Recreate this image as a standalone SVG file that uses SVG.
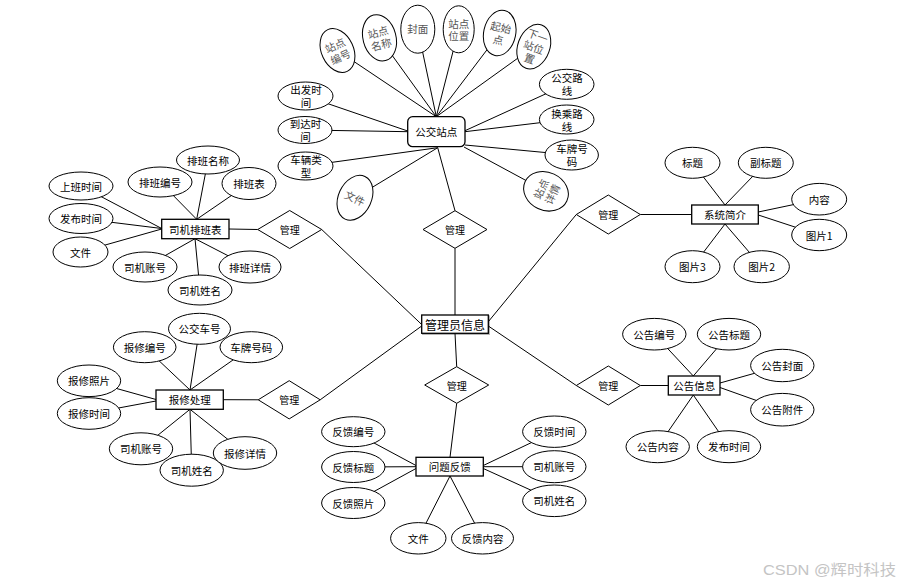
<svg xmlns="http://www.w3.org/2000/svg" width="902" height="584" viewBox="0 0 902 584">
<style>
text{font-family:"Noto Sans CJK SC","Liberation Sans",sans-serif;font-size:10.5px;fill:#000;text-anchor:middle;dominant-baseline:central}
.ell{fill:#fff;stroke:#000;stroke-width:1}
.ent{fill:#fff;stroke:#000;stroke-width:1.3}
.rel{fill:#fff;stroke:#000;stroke-width:1}
.rot text{fill:#555}
.rl{font-size:10px}
.big{font-size:12px}
#connectors line{stroke:#000;stroke-width:1}
.wm{font-family:"Liberation Sans","Noto Sans CJK SC",sans-serif;font-size:15px;fill:#c4c4c4;text-anchor:start}
</style>
<rect width="902" height="584" fill="#fff"/>
<g id="connectors">
<!-- 公交站点 -->
<line x1="337.5" y1="50.5" x2="436.3" y2="116.7"/>
<line x1="379.5" y1="37.8" x2="436.3" y2="116.7"/>
<line x1="417.8" y1="29.2" x2="436.3" y2="116.7"/>
<line x1="458.7" y1="29.3" x2="436.3" y2="116.7"/>
<line x1="499.7" y1="33" x2="436.3" y2="116.7"/>
<line x1="533.8" y1="46.7" x2="436.3" y2="116.7"/>
<line x1="305.5" y1="96" x2="407.7" y2="131"/>
<line x1="305" y1="130" x2="407.7" y2="131.7"/>
<line x1="305.5" y1="166" x2="437.7" y2="147.7"/>
<line x1="355" y1="197.8" x2="437.7" y2="147.7"/>
<line x1="566.7" y1="84.3" x2="465" y2="130.7"/>
<line x1="566.7" y1="119.5" x2="465" y2="131.7"/>
<line x1="571.7" y1="155" x2="465" y2="145"/>
<line x1="546" y1="191.3" x2="464" y2="147"/>
<line x1="437.7" y1="147.7" x2="455" y2="210.7"/>
<line x1="455" y1="248.3" x2="455" y2="315"/>
<!-- 司机排班表 -->
<line x1="81" y1="186" x2="161.7" y2="228.5"/>
<line x1="81" y1="218.5" x2="161.7" y2="228.5"/>
<line x1="80.5" y1="252" x2="161.7" y2="229"/>
<line x1="160" y1="182" x2="196.7" y2="219.3"/>
<line x1="208" y1="160" x2="196.7" y2="219.3"/>
<line x1="249" y1="183.5" x2="196.7" y2="219.3"/>
<line x1="145" y1="267" x2="195" y2="238.7"/>
<line x1="200" y1="290" x2="195" y2="238.7"/>
<line x1="250" y1="267" x2="195" y2="238.7"/>
<line x1="229" y1="229" x2="257.7" y2="229.5"/>
<line x1="321.7" y1="229.5" x2="421.7" y2="324.5"/>
<!-- 报修处理 -->
<line x1="144.7" y1="347.2" x2="190" y2="390"/>
<line x1="199.5" y1="328.8" x2="190" y2="390"/>
<line x1="251.3" y1="347.2" x2="190" y2="390"/>
<line x1="89" y1="380.8" x2="156" y2="399.5"/>
<line x1="89" y1="413.5" x2="156" y2="401"/>
<line x1="141" y1="448.8" x2="190" y2="409.3"/>
<line x1="191.7" y1="470.2" x2="190" y2="409.3"/>
<line x1="245" y1="453" x2="190" y2="409.3"/>
<line x1="223.3" y1="399.7" x2="258.2" y2="399.8"/>
<line x1="320.2" y1="399.8" x2="421.7" y2="326"/>
<!-- 问题反馈 -->
<line x1="455" y1="333.3" x2="456.7" y2="366.7"/>
<line x1="456.7" y1="403.3" x2="450" y2="457.3"/>
<line x1="353" y1="431.7" x2="416" y2="465.5"/>
<line x1="353" y1="467" x2="416" y2="466.7"/>
<line x1="353" y1="503" x2="416" y2="468.5"/>
<line x1="418.3" y1="538.3" x2="450" y2="476"/>
<line x1="482.5" y1="538.3" x2="450" y2="476"/>
<line x1="554.3" y1="431.7" x2="483.3" y2="465.5"/>
<line x1="554.3" y1="466.7" x2="483.3" y2="466.7"/>
<line x1="554.3" y1="500.8" x2="483.3" y2="468.5"/>
<!-- 系统简介 -->
<line x1="488.3" y1="321.7" x2="576.3" y2="214.5"/>
<line x1="640.3" y1="214.5" x2="691.7" y2="214.5"/>
<line x1="692.5" y1="162.8" x2="725" y2="205"/>
<line x1="765.8" y1="162.8" x2="725" y2="205"/>
<line x1="819.2" y1="199.2" x2="758.3" y2="212"/>
<line x1="819.2" y1="235" x2="758.3" y2="215"/>
<line x1="692.5" y1="266.7" x2="725" y2="224"/>
<line x1="761.7" y1="266.7" x2="725" y2="224"/>
<!-- 公告信息 -->
<line x1="488.3" y1="326" x2="576.3" y2="385.5"/>
<line x1="640.3" y1="385.5" x2="668.3" y2="385.5"/>
<line x1="654.3" y1="334.2" x2="693.3" y2="376"/>
<line x1="729" y1="334.2" x2="693.3" y2="376"/>
<line x1="782.3" y1="365.5" x2="720" y2="383"/>
<line x1="782.3" y1="409.7" x2="720" y2="387.5"/>
<line x1="657.7" y1="446.7" x2="693.3" y2="395"/>
<line x1="729" y1="446.7" x2="693.3" y2="395"/>
</g>

<!-- 公交站点 entity and attributes -->
<g id="n-gongjiaozhandian"><rect class="ent" x="407.7" y="116.7" width="57.3" height="30" rx="5"/><text x="436.3" y="131.7">公交站点</text></g>
<g id="a-zhandianbianhao" class="rot" transform="translate(337.5,50.5) rotate(-25)"><ellipse class="ell" cx="0" cy="0" rx="16" ry="23"/><text x="0" y="-6">站点</text><text x="0" y="6.5">编号</text></g>
<g id="a-zhandianmingcheng" class="rot" transform="translate(379.5,37.8) rotate(-15)"><ellipse class="ell" cx="0" cy="0" rx="16.5" ry="23.5"/><text x="0" y="-6">站点</text><text x="0" y="6.5">名称</text></g>
<g id="a-fengmian" class="rot" transform="translate(417.8,29.2)"><ellipse class="ell" cx="0" cy="0" rx="17" ry="24"/><text x="0" y="-1">封面</text></g>
<g id="a-zhandianweizhi" class="rot" transform="translate(458.7,29.3)"><ellipse class="ell" cx="0" cy="0" rx="15.5" ry="23.5"/><text x="0" y="-6">站点</text><text x="0" y="6">位置</text></g>
<g id="a-qishidian" class="rot" transform="translate(499.7,33) rotate(12)"><ellipse class="ell" cx="0" cy="0" rx="16" ry="23"/><text x="0" y="-6">起始</text><text x="0" y="6.5">点</text></g>
<g id="a-xiayizhanweizhi" class="rot" transform="translate(533.8,46.7) rotate(20)"><ellipse class="ell" cx="0" cy="0" rx="16" ry="23"/><text x="0" y="-12">下一</text><text x="0" y="0">站位</text><text x="0" y="12">置</text></g>
<g id="a-chufashijian"><ellipse class="ell" cx="305.5" cy="96" rx="27.5" ry="14"/><text x="306" y="89.5">出发时</text><text x="306" y="102.5">间</text></g>
<g id="a-daodashijian"><ellipse class="ell" cx="305" cy="130" rx="27" ry="13.5"/><text x="305.5" y="123.5">到达时</text><text x="305.5" y="136.5">间</text></g>
<g id="a-cheliangleixing"><ellipse class="ell" cx="305.5" cy="166" rx="27.5" ry="14"/><text x="306" y="159.5">车辆类</text><text x="306" y="172.5">型</text></g>
<g id="a-wenjian1" class="rot" transform="translate(355,197.8) rotate(25)"><ellipse class="ell" cx="0" cy="0" rx="16.5" ry="23.5"/><text x="0" y="0">文件</text></g>
<g id="a-gongjiaoluxian"><ellipse class="ell" cx="566.7" cy="84.3" rx="27.3" ry="15"/><text x="567" y="77.8">公交路</text><text x="567" y="90.8">线</text></g>
<g id="a-huanchengluxian"><ellipse class="ell" cx="566.7" cy="119.5" rx="27.3" ry="14.5"/><text x="567" y="113">换乘路</text><text x="567" y="126">线</text></g>
<g id="a-chepaihaoma1"><ellipse class="ell" cx="571.7" cy="155" rx="26.7" ry="15"/><text x="572" y="148.5">车牌号</text><text x="572" y="161.5">码</text></g>
<g id="a-zhandianxiangqing" class="rot" transform="translate(546,191.3) rotate(-65)"><ellipse class="ell" cx="0" cy="0" rx="19" ry="23"/><text x="0" y="-6">站点</text><text x="0" y="6.5">详情</text></g>
<g id="r-guanli1"><polygon class="rel" points="455,210.7 487,229.5 455,248.3 423,229.5"/><text class="rl" x="455" y="229.5">管理</text></g>

<!-- 司机排班表 -->
<g id="n-sijipaibanbiao"><rect class="ent" x="161.7" y="219.3" width="67.3" height="19.4"/><text x="195.3" y="229">司机排班表</text></g>
<g id="a-paibanmingcheng"><ellipse class="ell" cx="208" cy="160" rx="31.5" ry="14"/><text x="208" y="160">排班名称</text></g>
<g id="a-paibanbianhao"><ellipse class="ell" cx="160" cy="182" rx="32" ry="15"/><text x="160" y="182">排班编号</text></g>
<g id="a-paibanbiao"><ellipse class="ell" cx="249" cy="183.5" rx="27" ry="16"/><text x="249" y="183.5">排班表</text></g>
<g id="a-shangbanshijian"><ellipse class="ell" cx="81" cy="186" rx="32" ry="14"/><text x="81" y="186">上班时间</text></g>
<g id="a-fabushijian1"><ellipse class="ell" cx="81" cy="218.5" rx="32" ry="15"/><text x="81" y="218.5">发布时间</text></g>
<g id="a-wenjian2"><ellipse class="ell" cx="80.5" cy="252" rx="27.5" ry="15"/><text x="80.5" y="252">文件</text></g>
<g id="a-sijizhanghao1"><ellipse class="ell" cx="145" cy="267" rx="32" ry="15"/><text x="145" y="267">司机账号</text></g>
<g id="a-sijixingming1"><ellipse class="ell" cx="200" cy="290" rx="32" ry="15"/><text x="200" y="290">司机姓名</text></g>
<g id="a-paibanxiangqing"><ellipse class="ell" cx="250" cy="267" rx="31" ry="16"/><text x="250" y="267">排班详情</text></g>
<g id="r-guanli2"><polygon class="rel" points="289.7,210.5 321.7,229.5 289.7,248.5 257.7,229.5"/><text class="rl" x="289.7" y="229.5">管理</text></g>

<!-- 报修处理 -->
<g id="n-baoxiuchuli"><rect class="ent" x="156" y="390" width="67.3" height="19.3"/><text x="189.7" y="399.7">报修处理</text></g>
<g id="a-gongjiaochehao"><ellipse class="ell" cx="199.5" cy="328.8" rx="31" ry="15.5"/><text x="199.5" y="328.8">公交车号</text></g>
<g id="a-baoxiubianhao"><ellipse class="ell" cx="144.7" cy="347.2" rx="31.3" ry="15.5"/><text x="144.7" y="347.2">报修编号</text></g>
<g id="a-chepaihaoma2"><ellipse class="ell" cx="251.3" cy="347.2" rx="31.3" ry="15.5"/><text x="251.3" y="347.2">车牌号码</text></g>
<g id="a-baoxiuzhaopian"><ellipse class="ell" cx="89" cy="380.8" rx="31.7" ry="15.8"/><text x="89" y="380.8">报修照片</text></g>
<g id="a-baoxiushijian"><ellipse class="ell" cx="89" cy="413.5" rx="31.7" ry="15.8"/><text x="89" y="413.5">报修时间</text></g>
<g id="a-sijizhanghao2"><ellipse class="ell" cx="141" cy="448.8" rx="31.7" ry="16"/><text x="141" y="448.8">司机账号</text></g>
<g id="a-sijixingming2"><ellipse class="ell" cx="191.7" cy="470.2" rx="31.7" ry="16"/><text x="191.7" y="470.2">司机姓名</text></g>
<g id="a-baoxiuxiangqing"><ellipse class="ell" cx="245" cy="453" rx="31.7" ry="16.3"/><text x="245" y="453">报修详情</text></g>
<g id="r-guanli3"><polygon class="rel" points="289.2,380.7 320.2,399.8 289.2,418.9 258.2,399.8"/><text class="rl" x="289.2" y="399.8">管理</text></g>

<!-- 管理员信息 -->
<g id="n-guanliyuanxinxi"><rect class="ent" x="421.7" y="315" width="66.6" height="18.3" style="filter:drop-shadow(1px 1px 0.6px rgba(0,0,0,0.3))"/><text class="big" x="455" y="324.2">管理员信息</text></g>

<!-- 问题反馈 -->
<g id="r-guanli4"><polygon class="rel" points="456.7,366.7 488.7,385 456.7,403.3 424.7,385"/><text class="rl" x="456.7" y="385">管理</text></g>
<g id="n-wentifankui"><rect class="ent" x="416" y="457.3" width="67.3" height="18.7"/><text x="449.7" y="466.7">问题反馈</text></g>
<g id="a-fankuibianhao"><ellipse class="ell" cx="353.3" cy="431.7" rx="31.7" ry="15"/><text x="353.3" y="431.7">反馈编号</text></g>
<g id="a-fankuibiaoti"><ellipse class="ell" cx="353.3" cy="467" rx="31.7" ry="15.5"/><text x="353.3" y="467">反馈标题</text></g>
<g id="a-fankuizhaopian"><ellipse class="ell" cx="353.3" cy="503" rx="31.7" ry="15.5"/><text x="353.3" y="503">反馈照片</text></g>
<g id="a-wenjian3"><ellipse class="ell" cx="418.3" cy="538.3" rx="27.7" ry="15.7"/><text x="418.3" y="538.3">文件</text></g>
<g id="a-fankuineirong"><ellipse class="ell" cx="482.5" cy="538.3" rx="31" ry="15.7"/><text x="482.5" y="538.3">反馈内容</text></g>
<g id="a-fankuishijian"><ellipse class="ell" cx="554.3" cy="431.7" rx="31.7" ry="15.7"/><text x="554.3" y="431.7">反馈时间</text></g>
<g id="a-sijizhanghao3"><ellipse class="ell" cx="554.3" cy="466.7" rx="31.7" ry="16"/><text x="554.3" y="466.7">司机账号</text></g>
<g id="a-sijixingming3"><ellipse class="ell" cx="554.3" cy="500.8" rx="31.7" ry="15.8"/><text x="554.3" y="500.8">司机姓名</text></g>

<!-- 系统简介 -->
<g id="r-guanli5"><polygon class="rel" points="608.3,195 640.3,214.5 608.3,234 576.3,214.5"/><text class="rl" x="608.3" y="214.5">管理</text></g>
<g id="n-xitongjianjie"><rect class="ent" x="691.7" y="205" width="66.6" height="19"/><text x="725" y="214.5">系统简介</text></g>
<g id="a-biaoti"><ellipse class="ell" cx="692.5" cy="162.8" rx="27.5" ry="15.5"/><text x="692.5" y="162.8">标题</text></g>
<g id="a-fubiaoti"><ellipse class="ell" cx="765.8" cy="162.8" rx="27.5" ry="15.5"/><text x="765.8" y="162.8">副标题</text></g>
<g id="a-neirong"><ellipse class="ell" cx="819.2" cy="199.2" rx="27.5" ry="15.8"/><text x="819.2" y="199.2">内容</text></g>
<g id="a-tupian1"><ellipse class="ell" cx="819.2" cy="235" rx="27.5" ry="15.7"/><text x="819.2" y="235">图片1</text></g>
<g id="a-tupian3"><ellipse class="ell" cx="692.5" cy="266.7" rx="27.5" ry="16"/><text x="692.5" y="266.7">图片3</text></g>
<g id="a-tupian2"><ellipse class="ell" cx="761.7" cy="266.7" rx="27.7" ry="16"/><text x="761.7" y="266.7">图片2</text></g>

<!-- 公告信息 -->
<g id="r-guanli6"><polygon class="rel" points="608.3,366 640.3,385.5 608.3,405 576.3,385.5"/><text class="rl" x="608.3" y="385.5">管理</text></g>
<g id="n-gonggaoxinxi"><rect class="ent" x="668.3" y="376" width="51.7" height="19"/><text x="694.2" y="385.5">公告信息</text></g>
<g id="a-gonggaobianhao"><ellipse class="ell" cx="654.3" cy="334.2" rx="31.7" ry="15.8"/><text x="654.3" y="334.2">公告编号</text></g>
<g id="a-gonggaobiaoti"><ellipse class="ell" cx="729" cy="334.2" rx="31.7" ry="15.8"/><text x="729" y="334.2">公告标题</text></g>
<g id="a-gonggaofengmian"><ellipse class="ell" cx="782.3" cy="365.5" rx="31.7" ry="16.2"/><text x="782.3" y="365.5">公告封面</text></g>
<g id="a-gonggaofujian"><ellipse class="ell" cx="782.3" cy="409.7" rx="31.7" ry="16.3"/><text x="782.3" y="409.7">公告附件</text></g>
<g id="a-gonggaoneirong"><ellipse class="ell" cx="657.7" cy="446.7" rx="31.7" ry="16"/><text x="657.7" y="446.7">公告内容</text></g>
<g id="a-fabushijian2"><ellipse class="ell" cx="729" cy="446.7" rx="31.7" ry="16"/><text x="729" y="446.7">发布时间</text></g>

<text class="wm" x="763" y="569" textLength="133" lengthAdjust="spacingAndGlyphs">CSDN @辉时科技</text>
</svg>
